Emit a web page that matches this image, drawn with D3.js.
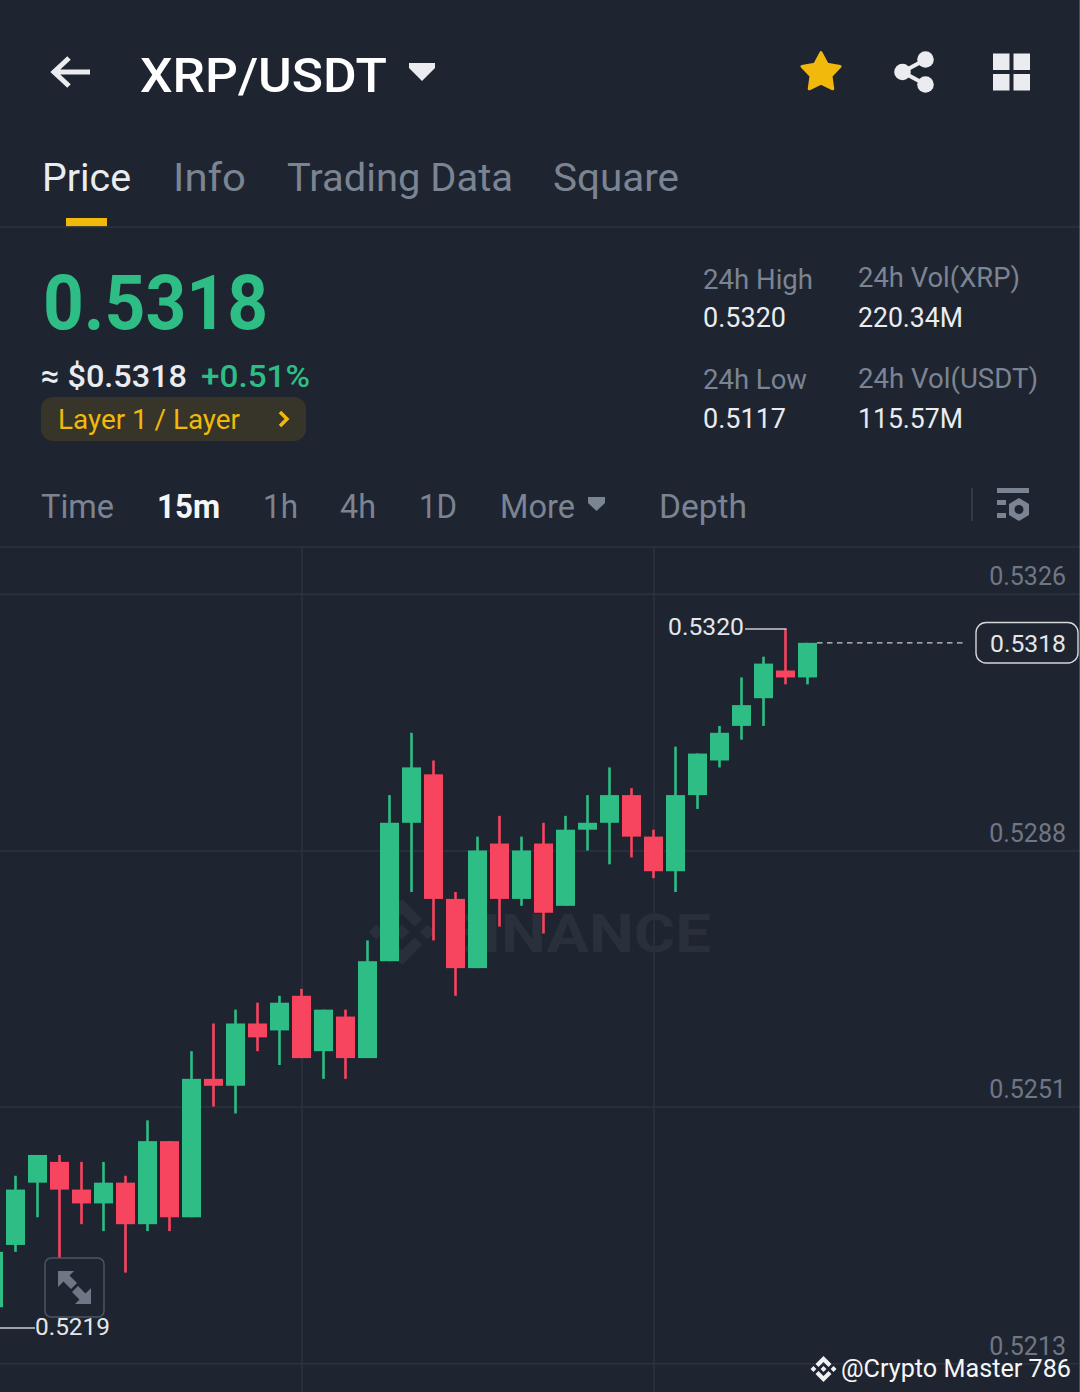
<!DOCTYPE html>
<html>
<head>
<meta charset="utf-8">
<title>XRP/USDT</title>
<script src="https://cdn.jsdelivr.net/npm/d3@7"></script>
<style>
  html, body { margin: 0; padding: 0; background: #1f2530; }
  svg { display: block; }
  text { font-family: Roboto, "Noto Sans", sans-serif; }
</style>
</head>
<body>
<div id="chart"></div>
<script>
// candles, 15m, oldest first
var opens  = [0.5222,0.5231,0.5240,0.5243,0.5239,0.5237,0.5240,0.5234,0.5246,0.5235,0.5255,0.5254,0.5263,0.5262,0.5267,0.5259,0.5264,0.5258,0.5272,0.5292,0.5299,0.5281,0.5271,0.5289,0.5281,0.5289,0.5280,0.5291,0.5292,0.5296,0.5290,0.5285,0.5296,0.5301,0.5306,0.5310,0.5314,0.5313];
var closes = [0.5230,0.5239,0.5244,0.5239,0.5237,0.5240,0.5234,0.5246,0.5235,0.5255,0.5254,0.5263,0.5261,0.5266,0.5258,0.5265,0.5258,0.5272,0.5292,0.5300,0.5281,0.5271,0.5288,0.5281,0.5288,0.5279,0.5291,0.5292,0.5296,0.5290,0.5285,0.5296,0.5302,0.5305,0.5309,0.5315,0.5313,0.5318];
var highs  = [0.5231,0.5241,0.5244,0.5244,0.5243,0.5243,0.5241,0.5249,0.5246,0.5259,0.5263,0.5265,0.5266,0.5267,0.5268,0.5265,0.5265,0.5275,0.5296,0.5305,0.5301,0.5282,0.5290,0.5293,0.5290,0.5292,0.5293,0.5296,0.5300,0.5297,0.5291,0.5303,0.5302,0.5306,0.5313,0.5316,0.5320,0.5318];
var lows   = [0.5219,0.5230,0.5235,0.5227,0.5234,0.5233,0.5227,0.5233,0.5233,0.5235,0.5251,0.5250,0.5259,0.5257,0.5258,0.5255,0.5255,0.5258,0.5272,0.5282,0.5275,0.5267,0.5271,0.5277,0.5280,0.5276,0.5280,0.5288,0.5286,0.5287,0.5284,0.5282,0.5294,0.5300,0.5304,0.5306,0.5312,0.5312];

var gridPrices = [0.53251, 0.5288, 0.5251, 0.52139];
var gridLabels = ['0.5326', '0.5288', '0.5251', '0.5213'];
var gridCandles = [14, 30];

var lastPrice = 0.5318, highPrice = 0.5320, lowPrice = 0.5219;
var highCandle = 36;

var width = 1080, height = 1392;
var bg = '#1f2530', gridColor = '#2c333e', up = '#2ebd85', down = '#f8455f',
    white = '#eaecef', grey = '#7b8493', yellow = '#f0b90b';

var svg = d3.select('#chart').append('svg')
    .attr('width', width)
    .attr('height', height);

svg.append('rect').attr('width', width).attr('height', height).attr('fill', bg);

// text with a fixed start, baseline and width
function label(x0, x1, base, str, size, color, weight) {
    return svg.append('text')
        .attr('x', x0 - 1)
        .attr('y', base)
        .attr('font-size', size)
        .attr('font-weight', weight || 400)
        .attr('fill', color)
        .attr('textLength', x1 - x0 + 1)
        .attr('lengthAdjust', 'spacingAndGlyphs')
        .text(str);
}

var logoParts = 'M38.73 53.2l24.59-24.58 24.6 24.6 14.3-14.31L63.32 0 24.42 38.9zM0 63.31l14.3-14.31 14.31 14.31-14.31 14.3zM38.73 73.41l24.59 24.59 24.6-24.6 14.31 14.29-38.9 38.91-38.91-38.88-.02-.02zM98.01 63.31l14.3-14.31 14.31 14.3-14.31 14.32zM77.83 63.3L63.32 48.78 52.59 59.51l-1.24 1.23-2.54 2.54 14.51 14.5 14.51-14.47z';

function logo(cx, cy, size, color) {
    var k = size / 126.61;
    svg.append('path')
        .attr('d', logoParts)
        .attr('fill', color)
        .attr('transform', 'translate(' + (cx - size / 2) + ',' + (cy - size / 2) + ') scale(' + k + ')');
}

//////////////////////////////////////////////////////
// header
svg.append('path')
    .attr('d', 'M90,72H53M69,58L54,72L69,86')
    .attr('fill', 'none')
    .attr('stroke', white)
    .attr('stroke-width', 5);

label(141, 387, 91.5, 'XRP/USDT', 49, '#ffffff', 500);

svg.append('path')
    .attr('d', 'M409,63H435V68L422,81L409,68Z')
    .attr('fill', white);

// star with a fatter waist than d3.symbolStar
var starLine = d3.lineRadial().curve(d3.curveLinearClosed);
svg.append('path')
    .attr('d', starLine(d3.range(10).map(function(i) {
        return [i * Math.PI / 5, i % 2 ? 10.5 : 20];
    })))
    .attr('transform', 'translate(821,72.6)')
    .attr('fill', yellow)
    .attr('stroke', yellow)
    .attr('stroke-width', 3)
    .attr('stroke-linejoin', 'round');

svg.append('path')
    .attr('d', 'M925.5,59.5L902.5,72L925.5,84.5')
    .attr('fill', 'none')
    .attr('stroke', white)
    .attr('stroke-width', 4);

[[925.5, 59.5], [902.5, 72], [925.5, 84.5]].forEach(function(c) {
    svg.append('circle').attr('cx', c[0]).attr('cy', c[1]).attr('r', 8.3).attr('fill', white);
});

[[993, 53.5], [1013.5, 53.5], [993, 74], [1013.5, 74]].forEach(function(c) {
    svg.append('rect').attr('x', c[0]).attr('y', c[1]).attr('width', 16.5).attr('height', 16.5).attr('fill', white);
});

// tabs
label(43, 131, 191, 'Price', 38, white, 400);
label(174, 246, 191, 'Info', 38, grey, 400);
label(288, 513, 191, 'Trading Data', 38, grey, 400);
label(554, 679, 191, 'Square', 38, grey, 400);

svg.append('rect').attr('x', 66).attr('y', 218).attr('width', 41).attr('height', 8.5).attr('fill', yellow);
svg.append('line').attr('x1', 0).attr('x2', width).attr('y1', 227).attr('y2', 227).attr('stroke', gridColor).attr('stroke-width', 1.5);

// price block
label(44, 268, 329, '0.5318', 76, up, 700);
label(42, 187, 387, '≈ $0.5318', 32, white, 500);
label(202, 310, 387, '+0.51%', 32, up, 500);

svg.append('rect')
    .attr('x', 41).attr('y', 397).attr('width', 265).attr('height', 44).attr('rx', 12)
    .attr('fill', '#373429');
label(59, 240, 428.5, 'Layer 1 / Layer', 28, yellow, 400);
svg.append('path')
    .attr('d', 'M280,412L287,419L280,426')
    .attr('fill', 'none')
    .attr('stroke', yellow)
    .attr('stroke-width', 3.5);

// 24h stats
label(704, 813, 289, '24h High', 28, grey, 400);
label(859, 1020, 287, '24h Vol(XRP)', 28, grey, 400);
label(704, 786, 327, '0.5320', 28, white, 400);
label(859, 963, 327, '220.34M', 28, white, 400);
label(704, 807, 389, '24h Low', 28, grey, 400);
label(859, 1038, 388, '24h Vol(USDT)', 28, grey, 400);
label(704, 786, 428, '0.5117', 28, white, 400);
label(859, 963, 428, '115.57M', 28, white, 400);

// interval bar
label(42, 114, 518, 'Time', 33, grey, 400);
label(158, 220, 518, '15m', 33, '#f5f6f7', 700);
label(264, 298, 518, '1h', 33, grey, 400);
label(341, 376, 518, '4h', 33, grey, 400);
label(420, 457, 518, '1D', 33, grey, 400);
label(501, 575, 518, 'More', 33, grey, 400);
svg.append('path').attr('d', 'M588,497H605V503L596.5,511L588,503Z').attr('fill', grey);
label(660, 747, 518, 'Depth', 33, grey, 400);

svg.append('line').attr('x1', 972).attr('x2', 972).attr('y1', 488).attr('y2', 521).attr('stroke', '#333a46').attr('stroke-width', 2);
svg.append('path')
    .attr('d', 'M997,488H1029V493H997ZM997,500H1006V505H997ZM997,513H1006V518H997Z')
    .attr('fill', grey);
svg.append('path')
    .attr('d', 'M1019,498L1029,504V515L1019,521L1009,515V504Z')
    .attr('fill', grey);
svg.append('circle').attr('cx', 1019).attr('cy', 509.5).attr('r', 4.5).attr('fill', bg);

svg.append('line').attr('x1', 0).attr('x2', width).attr('y1', 547).attr('y2', 547).attr('stroke', gridColor).attr('stroke-width', 1.5);

//////////////////////////////////////////////////////
// chart
var x = d3.scalePoint()
    .domain(d3.range(opens.length))
    .range([-6.5, 807.5]);

var y = d3.scaleLinear()
    .domain([highPrice, lowPrice])
    .range([629, 1328]);

var candles = d3.range(opens.length).map(function(i) {
    return { i: i, o: opens[i], c: closes[i], h: highs[i], l: lows[i] };
});

svg.append('g')
    .selectAll('line')
    .data(gridCandles)
    .enter().append('line')
    .attr('x1', function(d) { return x(d) + 0.5; })
    .attr('x2', function(d) { return x(d) + 0.5; })
    .attr('y1', 547)
    .attr('y2', height)
    .attr('stroke', gridColor)
    .attr('stroke-width', 1.5);

var yAxis = d3.axisRight(y)
    .tickValues(gridPrices)
    .tickSize(width)
    .tickFormat(function(d, i) { return gridLabels[i]; });

var axisG = svg.append('g').call(yAxis);
axisG.select('.domain').remove();
axisG.selectAll('.tick line').attr('stroke', gridColor).attr('stroke-width', 1.5);
axisG.selectAll('.tick text')
    .attr('x', 1066)
    .attr('y', -9)
    .attr('dy', 0)
    .attr('text-anchor', 'end')
    .attr('fill', '#6f7786')
    .attr('font-size', 25)
    .attr('font-family', 'Roboto, sans-serif');

// watermark sits under the candles
logo(402, 932, 66, '#2a303b');
label(443, 711, 952, 'BINANCE', 54, '#2a303b', 700);

var candleG = svg.append('g');

candleG.selectAll('line')
    .data(candles)
    .enter().append('line')
    .attr('x1', function(d) { return x(d.i); })
    .attr('x2', function(d) { return x(d.i); })
    .attr('y1', function(d) { return y(d.h); })
    .attr('y2', function(d) { return y(d.l); })
    .attr('stroke', function(d) { return d.c >= d.o ? up : down; })
    .attr('stroke-width', 2.6);

candleG.selectAll('rect')
    .data(candles)
    .enter().append('rect')
    .attr('x', function(d) { return x(d.i) - 9.5; })
    .attr('width', 19)
    .attr('y', function(d) { return y(Math.max(d.o, d.c)); })
    .attr('height', function(d) { return Math.abs(y(d.o) - y(d.c)); })
    .attr('fill', function(d) { return d.c >= d.o ? up : down; });

// high / low / last markers
svg.append('line')
    .attr('x1', 745).attr('x2', x(highCandle) + 1)
    .attr('y1', y(highPrice)).attr('y2', y(highPrice))
    .attr('stroke', '#c9ccd1').attr('stroke-width', 1.3);
label(669, 744, 635, '0.5320', 24.5, '#e4e6ea', 400);

svg.append('line')
    .attr('x1', 0).attr('x2', 35)
    .attr('y1', y(lowPrice)).attr('y2', y(lowPrice))
    .attr('stroke', '#c9ccd1').attr('stroke-width', 1.3);
label(36, 110, 1335, '0.5219', 24.5, '#e4e6ea', 400);

svg.append('line')
    .attr('x1', 817).attr('x2', 966)
    .attr('y1', y(lastPrice)).attr('y2', y(lastPrice))
    .attr('stroke', '#c9ccd1')
    .attr('stroke-width', 1.3)
    .attr('stroke-dasharray', '5.5,4.5');

svg.append('rect')
    .attr('x', 976).attr('y', 622.5).attr('width', 102).attr('height', 40.5).attr('rx', 10)
    .attr('fill', bg)
    .attr('stroke', '#d5d7db')
    .attr('stroke-width', 1.4);
label(991, 1066, 651.5, '0.5318', 24.5, '#e4e6ea', 400);

// fullscreen button
svg.append('rect')
    .attr('x', 45).attr('y', 1258).attr('width', 59).attr('height', 59).attr('rx', 6)
    .attr('fill', bg)
    .attr('stroke', '#4d5463')
    .attr('stroke-width', 1.5);
svg.append('path')
    .attr('d', 'M58,1271H74L69.5,1275.5L77,1283L71,1289L63.5,1281.5L58,1287ZM91,1304H75L79.5,1299.5L72,1292L78,1286L85.5,1293.5L91,1288Z')
    .attr('fill', '#6f7786');

// credit
logo(823.5, 1369, 26, '#f0f1f3');
label(842, 1071, 1377, '@Crypto Master 786', 26.5, '#f5f6f7', 400);

// thin edge on the right of the screenshot
svg.append('line').attr('x1', 1079.5).attr('x2', 1079.5).attr('y1', 0).attr('y2', height).attr('stroke', '#4a505b').attr('stroke-width', 1);
</script>
</body>
</html>
